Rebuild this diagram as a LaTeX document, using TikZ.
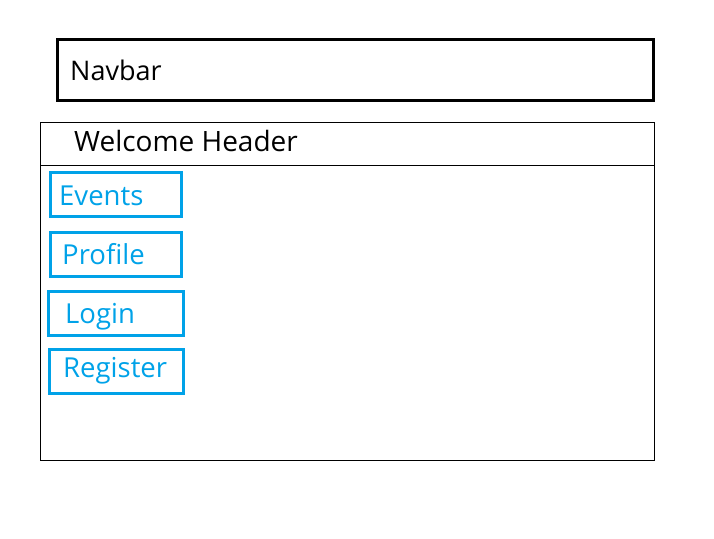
\documentclass[tikz,border=0pt]{standalone}
\usepackage{fontspec}
\setmainfont{Open Sans}
\usetikzlibrary{positioning}
\definecolor{btnblue}{RGB}{0,162,232}
\tikzset{
	btnbox/.style={draw=btnblue, line width=3pt, rectangle, inner sep=0pt, minimum width=#1, minimum height=44pt},
	btntext/.style={text=btnblue, inner sep=0pt, anchor=base west, font=\fontsize{27.5}{32}\selectfont},
}
\begin{document}
\begin{tikzpicture}[x=1pt, y=-1pt]
		\useasboundingbox (0,0) rectangle (714,538);

		% navbar
		\draw[line width=3pt] (57,39.5) rectangle (653,100.5);
		\node (navbar) [anchor=base west, inner sep=0pt, font=\fontsize{27}{32}\selectfont] at (70,80) {Navbar};

		% main panel with header
		\draw[line width=1pt] (40.5,122.5) rectangle (654.5,460.5);
		\draw[line width=1pt] (40.5,165.5) -- (654.5,165.5);
		\node (welcome) [anchor=base west, inner sep=0pt, font=\fontsize{28}{33}\selectfont] at (74,151) {Welcome Header};

		% buttons
		\node (events) [btnbox=131pt] at (116,194) {};
		\node (profile) [btnbox=131pt] at (116,254) {};
		\node (login) [btnbox=135pt] at (116,313) {};
		\node (register) [btnbox=134pt] at (116.5,371) {};

		\node (eventslbl) [btntext] at (59,205) {Events};
		\node (profilelbl) [btntext] at (62,264) {Profile};
		\node (loginlbl) [btntext] at (65,323) {Login};
		\node (registerlbl) [btntext] at (63,377) {Register};
	\end{tikzpicture}
\end{document}
